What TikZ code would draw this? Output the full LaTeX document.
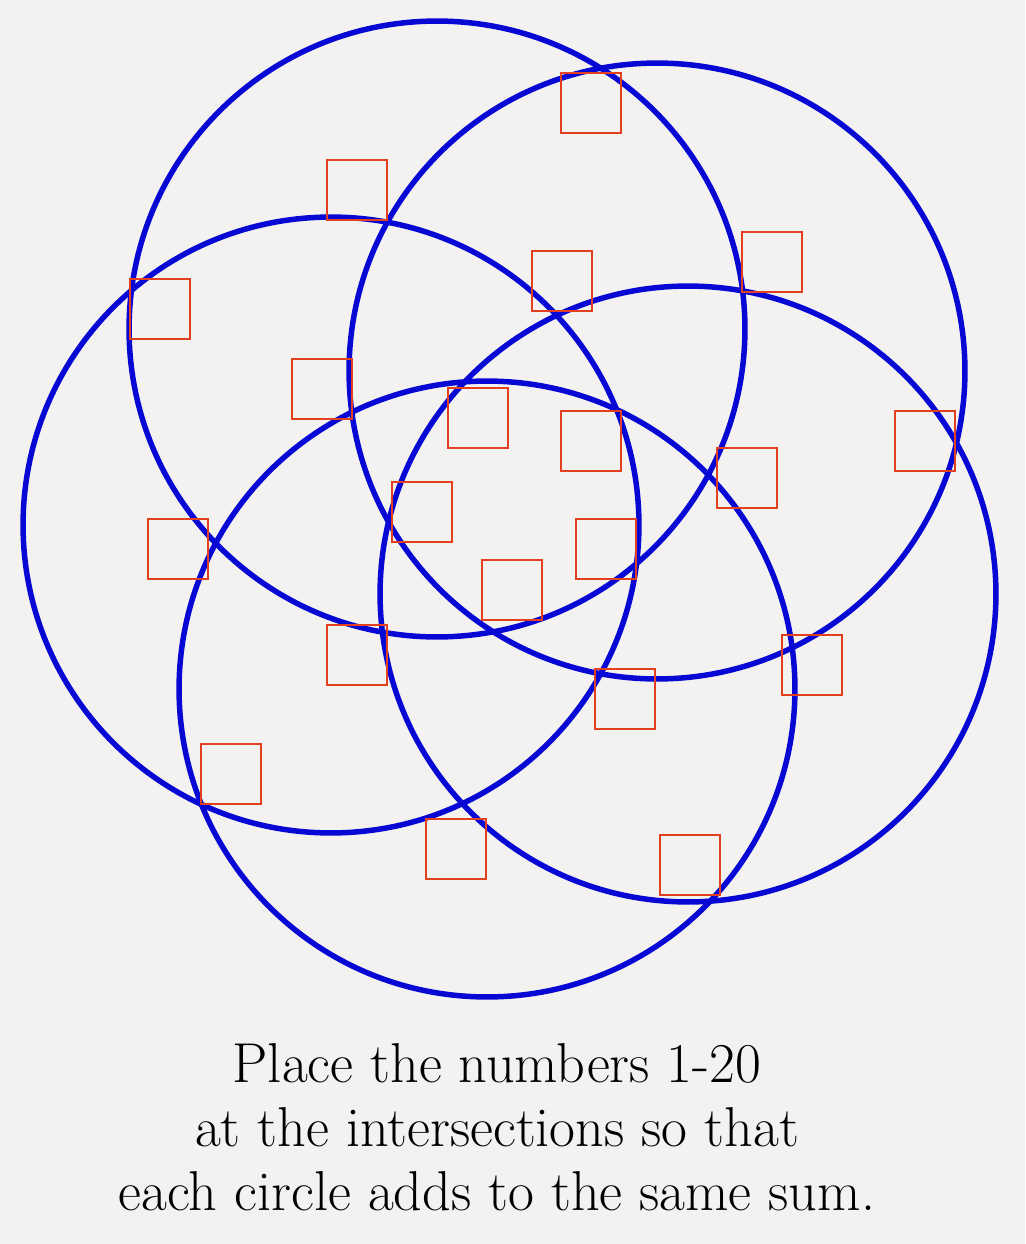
\documentclass[tikz,border=0pt]{standalone}
\usepackage{tikz}
\definecolor{paper}{RGB}{244,242,240}
\definecolor{ringblue}{RGB}{8,8,212}
\definecolor{cellred}{RGB}{226,64,30}
\tikzset{
  ring/.style={draw=ringblue, line width=0.11cm},
  cell/.style={draw=cellred, line width=0.04cm, minimum size=1.2cm, inner sep=0pt}
}
\begin{document}
\begin{tikzpicture}[x=0.02cm,y=-0.02cm]
                % background and page size
                \fill [paper] (0,0) rectangle (1025,1244);
                \useasboundingbox (0,0) rectangle (1025,1244);

                % Drawing circle 1 (top left)
                \draw [ring] (437,329) circle (6.16cm);%
                % Drawing circle 2 (top right)
                \draw [ring] (657,371) circle (6.16cm);%
                % Drawing circle 3 (left)
                \draw [ring] (331,525) circle (6.16cm);%
                % Drawing circle 4 (right)
                \draw [ring] (688,594) circle (6.16cm);%
                % Drawing circle 5 (bottom)
                \draw [ring] (487,689) circle (6.16cm);%

                % Marking the outer boxes
                \node [cell] (b1) at (591,103) {};%
                \node [cell] (b2) at (357,190) {};%
                \node [cell] (b3) at (772,262) {};%
                \node [cell] (b4) at (160,309) {};%
                \node [cell] (b9) at (925,441) {};%
                \node [cell] (b12) at (178,549) {};%
                \node [cell] (b16) at (812,665) {};%
                \node [cell] (b18) at (231,774) {};%
                \node [cell] (b19) at (456,849) {};%
                \node [cell] (b20) at (690,865) {};%

                % Marking the inner boxes
                \node [cell] (b5) at (562,281) {};%
                \node [cell] (b6) at (322,389) {};%
                \node [cell] (b10) at (747,478) {};%
                \node [cell] (b15) at (357,655) {};%
                \node [cell] (b17) at (625,699) {};%

                % Marking the central boxes
                \node [cell] (b7) at (478,418) {};%
                \node [cell] (b8) at (591,441) {};%
                \node [cell] (b11) at (422,512) {};%
                \node [cell] (b13) at (606,549) {};%
                \node [cell] (b14) at (512,590) {};%

                % Writing the task
                {\fontsize{32}{38}\selectfont
                \node [anchor=base] (line1) at (497,1082) {Place the numbers 1-20};%
                \node [anchor=base] (line2) at (497,1146) {at the intersections so that};%
                \node [anchor=base] (line3) at (497,1210) {each circle adds to the same sum.};%
                }
\end{tikzpicture}
\end{document}
